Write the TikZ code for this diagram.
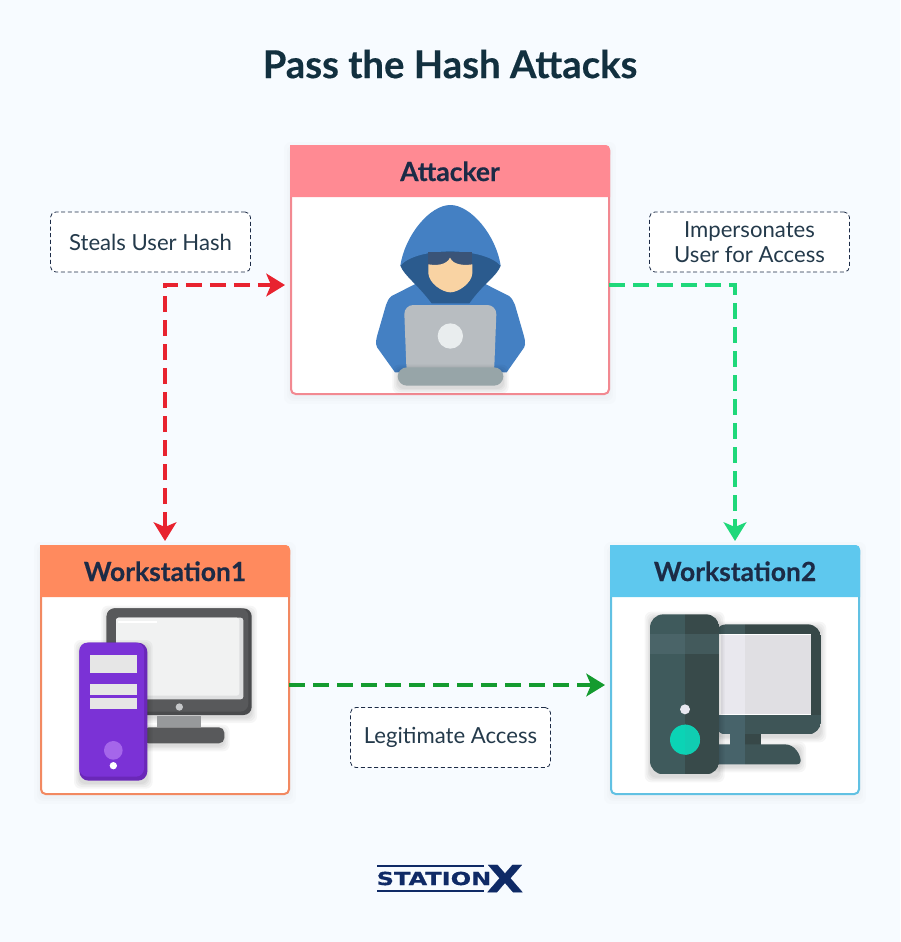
\documentclass[tikz,border=0pt]{standalone}
\usepackage{fontspec}
\setmainfont{Lato}[BoldFeatures={FakeBold=0.35}]
\newfontfamily\logofont{DejaVu Sans}[BoldFeatures={FakeBold=0.5}]
\usetikzlibrary{arrows.meta,calc}
\definecolor{pagebg}{HTML}{F7FBFF}
\definecolor{titleink}{HTML}{12303F}
\definecolor{headink}{HTML}{1C2B46}
\definecolor{labelink}{HTML}{243A4B}
\definecolor{atkhead}{HTML}{FF8A93}
\definecolor{wonehead}{HTML}{FF8A5E}
\definecolor{wtwohead}{HTML}{5EC8EE}
\definecolor{redline}{HTML}{E8232F}
\definecolor{greenline}{HTML}{1FD87A}
\definecolor{dgreenline}{HTML}{149B2F}
\definecolor{logoblue}{HTML}{0F2A66}
\tikzset{
  x=0.75pt,y=-0.75pt,
  HTML/.code={\definecolor{tmpc}{HTML}{#1}\pgfkeysalso{/tikz/fill=tmpc}},
  cardbox/.style={draw,line width=1.5pt,fill=white,rounded corners=3.5pt,outer sep=0pt,inner sep=0pt},
  headtext/.style={font=\bfseries\fontsize{19.8}{23}\selectfont,text=headink,inner sep=0pt},
  notebox/.style={draw=headink,densely dashed,line width=0.6pt,fill=white,rounded corners=4pt,
    minimum width=150pt,minimum height=45pt,align=center,inner sep=0pt,text=labelink,
    font=\fontsize{16.6}{18.75}\selectfont},
  flow/.style={line width=3.2pt,dash pattern=on 12pt off 6pt,
    -{Stealth[length=14pt,width=17pt,inset=3.5pt]}},
  flowboth/.style={flow,{Stealth[length=14pt,width=17pt,inset=3.5pt]}-{Stealth[length=14pt,width=17pt,inset=3.5pt]}},
  icon/.style={x=0.25pt,y=-0.25pt},
}
\newcommand{\softbox}[4]{%
  \foreach \g in {16,11,6,2}{\fill[black,opacity=.035,rounded corners=5pt]
     (#1-\g,#2-\g+8) rectangle (#3+\g,#4+\g+8);}}
\newcommand{\card}[7]{% name, cx, cy, w, h, colour, title
  \foreach \g in {7,4,2}{\fill[black,opacity=.012,rounded corners=5pt]
     (#2-#4/2-\g,#3-#5/2-\g+3) rectangle (#2+#4/2+\g,#3+#5/2+\g+3);}
  \node[cardbox,draw=#6!90!gray,minimum width=#4*0.75pt,minimum height=#5*0.75pt] (#1) at (#2,#3) {};
  \fill[#6] ([xshift=-0.75pt,yshift=0.75pt]#1.north west) [rounded corners=3.5pt] -- ([xshift=0.75pt,yshift=0.75pt]#1.north east) [sharp corners]
     -- ([xshift=0.75pt,yshift=-38.25pt]#1.north east) -- ([xshift=-0.75pt,yshift=-38.25pt]#1.north west) -- cycle;
  \fill[#6,rounded corners=3.5pt] ([xshift=-0.75pt,yshift=0.75pt]#1.north west) rectangle ([xshift=0.75pt,yshift=-10pt]#1.north east);
  \node[headtext] (#1-title) at ([yshift=-19pt]#1.north) {#7};
}
\begin{document}
\begin{tikzpicture}
\fill[pagebg] (0,0) rectangle (900,942);
\useasboundingbox (0,0) rectangle (900,942);

\node[inner sep=0pt,text=titleink,font=\bfseries\fontsize{28.7}{33}\selectfont] (maintitle) at (450,64) {Pass the Hash Attacks};

\card{atk}{450}{270}{318}{248}{atkhead}{Attacker}
\card{wone}{165}{670}{248}{248}{wonehead}{Workstation1}
\card{wtwo}{735}{670}{248}{248}{wtwohead}{Workstation2}

\node[notebox] (steals) at (150.5,242) {Steals User Hash};
\node[notebox] (imper) at (749.5,242) {Impersonates\\User for Access};
\node[notebox] (legit) at (450.5,737.5) {Legitimate Access};

\draw[flowboth,color=redline] ([yshift=3.75pt]wone.north) |- ([xshift=-4.5pt,yshift=-11.25pt]atk.west);
\draw[flow,color=greenline] ([yshift=-11.25pt]atk.east) -| ([yshift=3.75pt]wtwo.north);
\draw[flow,color=dgreenline] ([yshift=-11.25pt]wone.east) -- ([xshift=-4.5pt,yshift=-11.25pt]wtwo.west);

% ---------- hacker ----------
\begin{scope}[shift={(280,135)},icon]
  \fill[HTML=4480C3] (410,445) -- (335,483) .. controls (325,490) and (322,500) .. (318,510)
     -- (292,600) .. controls (285,625) and (288,635) .. (297,645) -- (345,712) -- (680,712) -- (727,645)
     .. controls (736,635) and (738,625) .. (731,600) -- (705,510) .. controls (700,500) and (697,490) .. (687,483) -- (612,445) -- cycle;
  \fill[HTML=2B5B8E] (361,392) .. controls (375,425) and (410,445) .. (455,505) -- (568,505)
     .. controls (610,445) and (650,425) .. (662,392) .. controls (610,320) and (410,320) .. (361,392) -- cycle;
  \fill[HTML=4480C3] (361,392) .. controls (375,300) and (450,210) .. (511,210) .. controls (572,210) and (648,300) .. (662,392)
     .. controls (610,335) and (410,335) .. (361,392) -- cycle;
  \fill[HTML=3A5478] (445,352) rectangle (577,392);
  \fill[HTML=F9D3A3] (445,388) .. controls (470,392) and (500,390) .. (510,368) .. controls (520,390) and (552,392) .. (577,388)
     -- (577,415) .. controls (575,445) and (535,472) .. (511,472) .. controls (487,472) and (447,445) .. (445,415) -- cycle;
  \fill[HTML=B8BDC1,rounded corners=7pt] (372,510) -- (650,510) -- (642,720) -- (380,720) -- cycle;
  \fill[HTML=E9EDEE] (511,603) circle[radius=38];
  \softbox{353}{697}{670}{752}
  \fill[HTML=97A5A8,rounded corners=7pt] (353,697) rectangle (670,752);
\end{scope}

% ---------- workstation 1 ----------
\begin{scope}[shift={(30,535)},icon]
  \softbox{340}{577}{583}{625}
  \softbox{230}{220}{665}{540}
  \fill[HTML=4A4B4D,rounded corners=6pt] (230,220) rectangle (665,540);
  \fill[HTML=58595B,rounded corners=6pt] (230,220) rectangle (655,530);
  \fill[HTML=DEDFE0,rounded corners=2pt] (258,248) rectangle (640,493);
  \fill[HTML=F1F2F2,rounded corners=2pt] (258,248) rectangle (628,482);
  \fill[white] (265,258) rectangle (380,263);
  \fill[HTML=C5C7C9] (448,516) circle[radius=11];
  \fill[HTML=97999B] (382,543) rectangle (514,577);
  \fill[HTML=58595B,rounded corners=4pt] (340,577) rectangle (583,625);
  \softbox{148}{323}{352}{737}
  \fill[HTML=6A28B8,rounded corners=7pt] (148,323) rectangle (352,737);
  \fill[HTML=7B32D6,rounded corners=6pt] (148,323) rectangle (342,725);
  \fill[HTML=E6E6E6] (179,361) rectangle (322,414);
  \fill[HTML=E6E6E6] (179,446) rectangle (322,479);
  \fill[HTML=E6E6E6] (179,489) rectangle (322,522);
  \fill[HTML=A566EA] (250,646) circle[radius=28];
  \fill[white] (250,692) circle[radius=11];
\end{scope}

% ---------- workstation 2 ----------
\begin{scope}[shift={(600,535)},icon]
  \softbox{350}{268}{663}{598}
  \softbox{350}{628}{602}{688}
  \begin{scope}
    \clip[rounded corners=10pt] (340,268) rectangle (663,598);
    \fill[HTML=42595B] (340,268) rectangle (435,598);
    \fill[HTML=374848] (435,268) rectangle (663,598);
    \fill[HTML=47636A] (340,540) rectangle (435,598);
    \fill[HTML=3E5557] (435,540) rectangle (663,598);
  \end{scope}
  \fill[white] (358,297) rectangle (634,541);
  \fill[HTML=E9E8EE] (362,301) rectangle (435,538);
  \fill[HTML=E0DFE3] (435,301) rectangle (632,538);
  \fill[HTML=47636A] (390,598) rectangle (435,630);
  \fill[HTML=374848] (435,598) rectangle (482,630);
  \begin{scope}
    \clip (340,688) -- (340,628) -- (555,628) .. controls (585,628) and (602,660) .. (602,678) .. controls (602,685) and (597,688) .. (590,688) -- cycle;
    \fill[HTML=47636A] (340,620) rectangle (435,700);
    \fill[HTML=3E5557] (435,620) rectangle (610,700);
  \end{scope}
  \softbox{150}{238}{358}{718}
  \begin{scope}
    \clip[rounded corners=10pt] (150,238) rectangle (358,718);
    \fill[HTML=3F5A5C] (150,238) rectangle (255,718);
    \fill[HTML=384A4A] (255,238) rectangle (358,718);
    \fill[HTML=4A6468] (150,298) rectangle (255,358);
    \fill[HTML=435A5C] (255,298) rectangle (358,358);
  \end{scope}
  \fill[HTML=E8E8F0] (255,523) circle[radius=15];
  \fill[HTML=0BD3B5] (255,614) circle[radius=45];
  \begin{scope}
    \clip (255,560) rectangle (310,670);
    \fill[HTML=10CDB2] (255,614) circle[radius=45];
  \end{scope}
\end{scope}

% ---------- logo ----------
\fill[logoblue] (377,865) rectangle (484,867.3);
\fill[logoblue] (377,890.3) rectangle (484,892);
\node[inner sep=0pt,text=logoblue,font=\logofont\bfseries] (logotext) at (434,878.5) {\resizebox{86pt}{10pt}{STATION}};
\node[inner sep=0pt,text=logoblue,font=\logofont\bfseries] (logox) at (505,878.5) {\resizebox{27.5pt}{20.5pt}{X}};
\end{tikzpicture}
\end{document}
